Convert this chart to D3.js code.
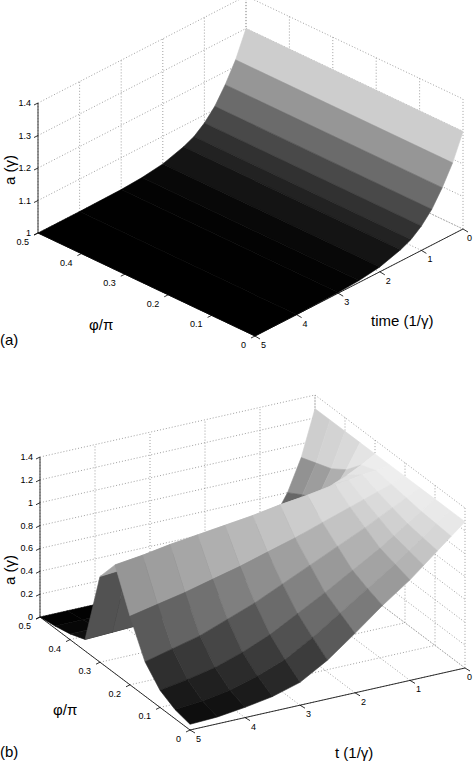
<!DOCTYPE html>
<html>
<head>
<meta charset="utf-8">
<script src="https://cdnjs.cloudflare.com/ajax/libs/d3/7.8.5/d3.min.js"></script>
<style>
  body { margin: 0; background: #fff; }
  text { font-family: "Liberation Sans", Arial, sans-serif; fill: #000; }
  .tick { font-size: 9px; }
  .lab { font-size: 15px; }
  .grid { stroke: #888; stroke-width: 0.8; stroke-dasharray: 1,2; fill: none; }
  .axis { stroke: #000; stroke-width: 0.8; fill: none; }
</style>
</head>
<body>
<svg id="fig" width="474" height="761"></svg>
<script>
// ---- data ----
// panel (a): a(t) does not depend on phi
const tA = [0, 0.25, 0.5, 0.75, 1, 1.25, 1.5, 2, 2.5, 3, 4, 5];
const aA = [1.30, 1.22, 1.16, 1.11, 1.075, 1.05, 1.035, 1.015, 1.006, 1.002, 1.0, 1.0];
const phiA = [0, 0.5];

// panel (b): a(phi, t), rows = phi, columns = t
const tB = [0, 0.25, 0.5, 0.75, 1, 1.5, 2, 2.5, 3, 3.5, 4, 4.5, 5];
const phiB = [0, 0.05, 0.1, 0.15, 0.2, 0.25, 0.3, 0.35, 0.4, 0.45, 0.5];
const aB = [
  [1.28, 1.18, 1.08, 0.98, 0.88, 0.71, 0.52, 0.34, 0.20, 0.13, 0.09, 0.06, 0.05],
  [1.28, 1.19, 1.10, 1.01, 0.92, 0.76, 0.60, 0.44, 0.30, 0.21, 0.14, 0.10, 0.08],
  [1.28, 1.20, 1.12, 1.04, 0.96, 0.82, 0.68, 0.55, 0.42, 0.32, 0.24, 0.19, 0.15],
  [1.28, 1.22, 1.16, 1.10, 1.04, 0.93, 0.82, 0.71, 0.60, 0.51, 0.42, 0.36, 0.30],
  [1.28, 1.24, 1.20, 1.16, 1.12, 1.04, 0.96, 0.89, 0.82, 0.76, 0.70, 0.65, 0.60],
  [1.28, 1.26, 1.25, 1.23, 1.22, 1.18, 1.15, 1.11, 1.08, 1.05, 1.02, 0.98, 0.95],
  [1.28, 1.21, 1.15, 1.10, 1.05, 0.98, 0.92, 0.88, 0.85, 0.82, 0.80, 0.77, 0.75],
  [1.28, 1.07, 0.90, 0.75, 0.62, 0.45, 0.32, 0.24, 0.18, 0.14, 0.12, 0.11, 0.10],
  [1.28, 0.98, 0.75, 0.58, 0.45, 0.28, 0.18, 0.12, 0.08, 0.06, 0.05, 0.05, 0.05],
  [1.28, 0.93, 0.68, 0.50, 0.35, 0.18, 0.10, 0.05, 0.03, 0.02, 0.02, 0.02, 0.02],
  [1.28, 0.88, 0.60, 0.40, 0.25, 0.10, 0.04, 0.02, 0.01, 0.00, 0.00, 0.00, 0.00]
];

const phiTicks = [0, 0.1, 0.2, 0.3, 0.4, 0.5];
const tTicks = [0, 1, 2, 3, 4, 5];
const zTicksA = [1, 1.1, 1.2, 1.3, 1.4];
const zTicksB = [0, 0.2, 0.4, 0.6, 0.8, 1, 1.2, 1.4];

const svg = d3.select('#fig');

function panel(cfg) {
  const sPhi = d3.scaleLinear().domain([0, 0.5]).range([0, 1]);
  const sT = d3.scaleLinear().domain([5, 0]).range([0, 1]);
  const sZ = d3.scaleLinear().domain(cfg.zDomain).range([0, cfg.H]);
  const P0 = cfg.P0, Pp = cfg.Pphi, Pt = cfg.Pt;
  function proj(phi, t, z) {
    const u = sPhi(phi), v = sT(t);
    return [P0[0] + u * (Pp[0] - P0[0]) + v * (Pt[0] - P0[0]),
            P0[1] + u * (Pp[1] - P0[1]) + v * (Pt[1] - P0[1]) - sZ(z)];
  }
  const g = svg.append('g');
  const line = d3.line();
  const z0 = cfg.zDomain[0], z1 = cfg.zDomain[1];

  // back walls and floor grid
  cfg.zTicks.forEach(z => {
    g.append('path').attr('class', 'grid').attr('d', line([proj(0.5, 5, z), proj(0.5, 0, z), proj(0, 0, z)]));
  });
  tTicks.forEach(t => {
    g.append('path').attr('class', 'grid').attr('d', line([proj(0, t, z0), proj(0.5, t, z0), proj(0.5, t, z1)]));
  });
  phiTicks.forEach(p => {
    g.append('path').attr('class', 'grid').attr('d', line([proj(p, 5, z0), proj(p, 0, z0), proj(p, 0, z1)]));
  });

  // axes
  g.append('path').attr('class', 'axis').attr('d', line([proj(0.5, 5, z1), proj(0.5, 5, z0), proj(0, 5, z0), proj(0, 0, z0)]));
  cfg.zTicks.forEach(z => {
    const p = proj(0.5, 5, z);
    g.append('path').attr('class', 'axis').attr('d', line([p, [p[0] - 4, p[1] + 2]]));
    g.append('text').attr('class', 'tick').attr('x', p[0] - 7).attr('y', p[1] + 3)
      .attr('text-anchor', 'end').text(d3.format('~g')(z));
  });
  phiTicks.forEach(ph => {
    const p = proj(ph, 5, z0);
    g.append('path').attr('class', 'axis').attr('d', line([p, [p[0] - 4, p[1] + 2]]));
    g.append('text').attr('class', 'tick').attr('x', p[0] - 9).attr('y', p[1] + 12)
      .attr('text-anchor', 'end').text(ph);
  });
  tTicks.forEach(t => {
    const p = proj(0, t, z0);
    g.append('path').attr('class', 'axis').attr('d', line([p, [p[0] + 5, p[1] + 3]]));
    g.append('text').attr('class', 'tick').attr('x', Math.min(p[0] + 6, 467)).attr('y', p[1] + 12).text(t);
  });

  // surface quads, painter's order by floor depth
  const gray = d3.scaleLinear().domain(cfg.cDomain).range([0, 245]).clamp(true);
  const quads = [];
  for (let i = 0; i < cfg.phi.length - 1; i++) {
    for (let j = 0; j < cfg.t.length - 1; j++) {
      const v = [[i, j], [i + 1, j], [i + 1, j + 1], [i, j + 1]];
      const pts = v.map(([a, b]) => proj(cfg.phi[a], cfg.t[b], cfg.val(a, b)));
      const zm = d3.mean(v, ([a, b]) => cfg.val(a, b));
      const fc = proj((cfg.phi[i] + cfg.phi[i + 1]) / 2, (cfg.t[j] + cfg.t[j + 1]) / 2, z0);
      quads.push({ pts, zm, depth: fc[1] });
    }
  }
  quads.sort((a, b) => a.depth - b.depth);
  g.selectAll('path.q').data(quads).enter().append('path')
    .attr('class', 'q')
    .attr('d', d => line(d.pts) + 'Z')
    .attr('fill', d => { const c = Math.round(gray(d.zm)); return d3.rgb(c, c, c); })
    .attr('stroke', d => { const c = Math.round(gray(d.zm)); return d3.rgb(c, c, c); })
    .attr('stroke-width', 0.6);

  // labels
  cfg.labels.forEach(l => {
    const t = g.append('text').attr('class', 'lab').attr('x', l.x).attr('y', l.y).text(l.s);
    if (l.rot) t.attr('transform', `rotate(-90,${l.x},${l.y})`).attr('text-anchor', 'middle');
  });
}

panel({
  P0: [255, 336], Pphi: [38, 233], Pt: [463, 229], H: 130,
  zDomain: [1, 1.4], zTicks: zTicksA, cDomain: [1.0, 1.31],
  phi: phiA, t: tA, val: (i, j) => aA[j],
  labels: [
    { s: 'a (γ)', x: 15, y: 170, rot: true },
    { s: 'φ/π', x: 89, y: 330 },
    { s: 'time (1/γ)', x: 371, y: 326 },
    { s: '(a)', x: 0, y: 345 }
  ]
});

panel({
  P0: [190, 730], Pphi: [40, 617], Pt: [465, 668], H: 160,
  zDomain: [0, 1.4], zTicks: zTicksB, cDomain: [0, 1.3],
  phi: phiB, t: tB, val: (i, j) => aB[i][j],
  labels: [
    { s: 'a (γ)', x: 15, y: 570, rot: true },
    { s: 'φ/π', x: 53, y: 715 },
    { s: 't (1/γ)', x: 335, y: 758 },
    { s: '(b)', x: 0, y: 757 }
  ]
});
</script>
</body>
</html>
